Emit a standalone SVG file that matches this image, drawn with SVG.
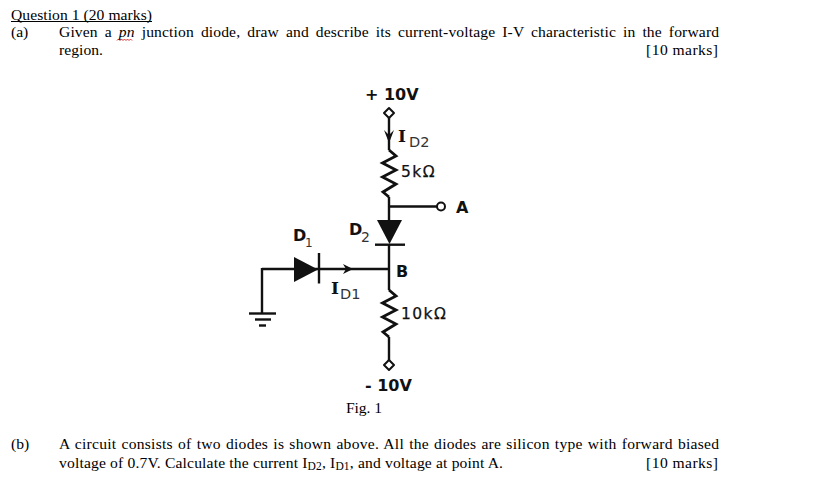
<svg xmlns="http://www.w3.org/2000/svg" width="819" height="480" viewBox="0 0 819 480">
<style>
.t{font-family:"Liberation Serif","Times New Roman",serif;font-size:15.6px;fill:#000}
.l{font-family:"DejaVu Sans",Verdana,sans-serif;font-size:15.5px;fill:#111;stroke:#111;stroke-width:.25;letter-spacing:1.4px}
.s{font-family:"DejaVu Sans",Verdana,sans-serif;font-size:14.5px;fill:#333}
.b{font-family:"DejaVu Sans",Verdana,sans-serif;font-size:16px;font-weight:bold;fill:#111}
.i{font-family:"DejaVu Serif",serif;font-size:17px;font-weight:bold;fill:#111}
.w{fill:none;stroke:#111;stroke-width:2.4}
.r{fill:none;stroke:#111;stroke-width:2.8;stroke-linejoin:miter}
.c{fill:#fff;stroke:#111;stroke-width:2;stroke-linejoin:round}
.f{fill:#111;stroke:none}
</style>
<rect width="819" height="480" fill="#fff"/>
<g id="question-text">
<text class="t" x="11" y="19.500" textLength="141">Question 1 (20 marks)</text>
<path d="M11 21.500H152" stroke="#000" stroke-width="1" fill="none"/>
<text class="t" x="11" y="37">(a)</text>
<text class="t" x="59" y="37" textLength="660" lengthAdjust="spacing" style="word-spacing:3px">Given a <tspan font-style="italic">pn</tspan> junction diode, draw and describe its current-voltage I-V characteristic in the forward</text>
<path d="M117 40.500l1.500-1.500 1.500 1.500 1.500-1.500 1.500 1.500 1.500-1.500 1.500 1.500 1.500-1.500 1.500 1.500 1.500-1.500 1.500 1.500" stroke="#c00" stroke-width="0.800" fill="none"/>
<text class="t" x="59" y="55" textLength="44">region.</text>
<text class="t" x="646" y="55" textLength="72" lengthAdjust="spacing">[10 marks]</text>
<text class="t" x="11" y="449">(b)</text>
<text class="t" x="59" y="449" textLength="660" lengthAdjust="spacing" style="word-spacing:1px">A circuit consists of two diodes is shown above. All the diodes are silicon type with forward biased</text>
<text class="t" x="59" y="468" textLength="444">voltage of 0.7V. Calculate the current I<tspan font-size="11.500" dy="1.500">D2</tspan><tspan dy="-1.500">, I</tspan><tspan font-size="11.500" dy="1.500">D1</tspan><tspan dy="-1.500">, and voltage at point A.</tspan></text>
<text class="t" x="646" y="468" textLength="72" lengthAdjust="spacing">[10 marks]</text>
<text class="t" x="346" y="413" textLength="36">Fig. 1</text>
</g>
<g id="connectors">
<path class="w" d="M389 118V150M389 197V222M389 206.500H437M389 244V290M389 337V361M262 269H389M262 268V313"/>
<path class="r" d="M389 150L396 156 382.500 163 396 170 382.500 177 396 184 383 192 389 197"/>
<path class="r" d="M389 290L396 296 382.500 303 396 310 382.500 317 396 324 383 332 389 337"/>
<path class="f" d="M384 130L389 135 394 130 389 143ZM343 264L353 269 343 274 346 269Z"/>
</g>
<g id="node-plus10v">
<path class="c" d="M389 108L394 113 389 118 384 113Z"/>
<text class="b" x="365" y="100">+ 10V</text>
</g>
<g id="node-id2"><text class="i" x="398" y="142">I</text><text class="s" x="409" y="147">D2</text></g>
<g id="node-r5k"><text class="l" x="401" y="177">5kΩ</text></g>
<g id="node-a">
<circle class="c" cx="441" cy="206.500" r="4"/>
<text class="b" x="456" y="213">A</text>
</g>
<g id="node-d2">
<path class="f" d="M377 220H402L389.500 244Z"/>
<path class="w" d="M375 244.700H405"/>
<text class="b" x="349" y="235">D</text><text class="s" x="361" y="241.500" style="font-size:14px">2</text>
</g>
<g id="node-d1">
<path class="f" d="M294 257V282L318 269.500Z"/>
<path class="w" d="M319 253V283.500"/>
<text class="b" x="293" y="241">D</text><text class="s" x="305" y="247" style="font-size:12px">1</text>
</g>
<g id="node-b"><text class="b" x="396" y="277">B</text></g>
<g id="node-id1"><text class="i" x="331" y="294">I</text><text class="s" x="340" y="299">D1</text></g>
<g id="node-ground">
<path class="w" d="M249 313.500H276"/>
<path class="w" d="M255 319.500H271"/>
<path class="w" d="M259 325.500H266"/>
</g>
<g id="node-r10k"><text class="l" x="401" y="319">10kΩ</text></g>
<g id="node-minus10v">
<path class="c" d="M389 360L394 365 389 370 384 365Z"/>
<text class="b" x="365" y="391">- 10V</text>
</g>
</svg>
